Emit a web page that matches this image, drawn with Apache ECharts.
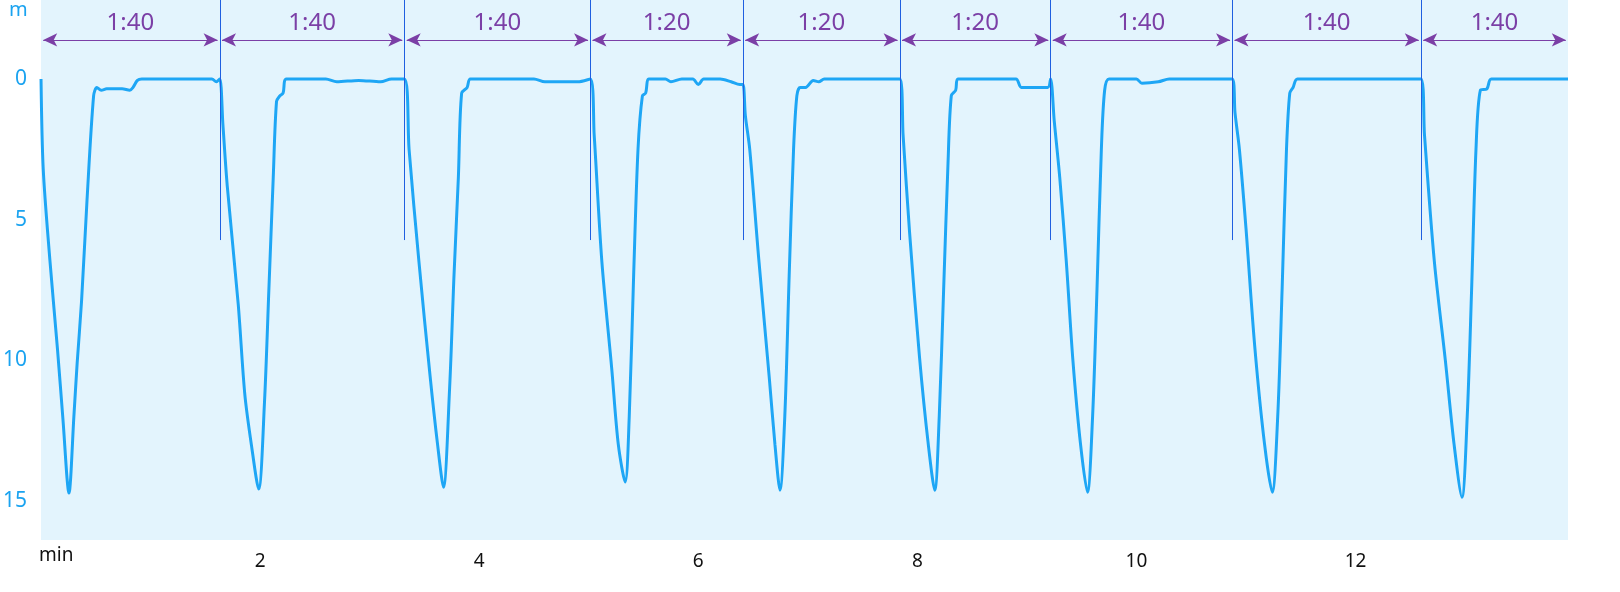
<!DOCTYPE html>
<html><head><meta charset="utf-8">
<script src="https://cdn.jsdelivr.net/npm/echarts@6/dist/echarts.min.js"></script>
<style>html,body{margin:0;padding:0;background:#fff}#c{width:1620px;height:592px}</style>
</head><body><div id="c"></div>
<script>
// depth profile [minutes, metres]
var dive1 = [[0,0],[0.02,3.2],[0.08,6.4],[0.15,9.6],[0.2,12.1],[0.255,14.73],[0.3,12],[0.33,10.1],[0.37,7.9],[0.42,4.3],[0.48,0.6],[0.51,0.3],[0.55,0.4],[0.6,0.35],[0.74,0.35],[0.81,0.4],[0.84,0.3],[0.88,0.05],[0.92,0],[1.56,0],[1.6,0.1],[1.632,0]];
var dive2 = [[1.66,1.6],[1.7,3.8],[1.8,8],[1.86,11.2],[1.92,13],[1.987,14.59],[2.04,11.5],[2.08,7.5],[2.12,3.5],[2.15,0.8],[2.18,0.6],[2.21,0.5],[2.24,0],[2.6,0],[2.7,0.1],[2.9,0.05],[3.1,0.1],[3.2,0],[3.318,0]];
var dive3 = [[3.36,2.5],[3.45,6.5],[3.55,10.5],[3.62,13],[3.674,14.52],[3.73,11],[3.77,7],[3.81,3.5],[3.84,0.5],[3.89,0.3],[3.92,0],[4.5,0],[4.6,0.1],[4.9,0.1],[5.014,0]];
var dive4 = [[5.05,2],[5.12,6.5],[5.21,10.3],[5.27,13],[5.333,14.34],[5.37,12],[5.41,7],[5.45,2.5],[5.49,0.6],[5.52,0.5],[5.55,0],[5.7,0],[5.75,0.1],[5.85,0],[5.95,0],[6.0,0.2],[6.05,0],[6.2,0],[6.3,0.1],[6.38,0.2],[6.408,0.2]];
var dive5 = [[6.43,1.3],[6.47,2.5],[6.55,6.3],[6.65,10.7],[6.7,13],[6.746,14.63],[6.79,12],[6.83,7],[6.87,2.5],[6.9,0.6],[6.93,0.3],[6.98,0.3],[7.05,0.05],[7.1,0.1],[7.15,0],[7.84,0]];
var dive6 = [[7.87,2],[7.93,5.5],[8.02,9.9],[8.1,13],[8.159,14.63],[8.2,12],[8.24,7.5],[8.28,3],[8.31,0.6],[8.35,0.4],[8.37,0],[8.9,0],[8.95,0.3],[9.19,0.3],[9.216,0]];
var dive7 = [[9.25,1.5],[9.3,3.5],[9.36,6.5],[9.42,10],[9.49,13],[9.553,14.7],[9.6,12],[9.64,7.5],[9.68,2.5],[9.71,0.4],[9.75,0],[10.0,0],[10.05,0.15],[10.2,0.1],[10.3,0],[10.875,0]];
var dive8 = [[10.9,1.2],[10.94,2.5],[11.0,5.3],[11.08,9.5],[11.17,13],[11.24,14.7],[11.29,12],[11.33,7.5],[11.37,2.5],[11.4,0.5],[11.43,0.3],[11.47,0],[12.598,0]];
var dive9 = [[12.63,2],[12.72,6.5],[12.82,10],[12.9,13],[12.972,14.88],[13.02,12],[13.06,7.5],[13.1,2.5],[13.14,0.4],[13.2,0.35],[13.24,0],[13.94,0]];

var diveStarts = [1.632, 3.318, 5.014, 6.408, 7.84, 9.216, 10.875, 12.598];
var intervalBounds = [0, 1.632, 3.318, 5.014, 6.408, 7.84, 9.216, 10.875, 12.598, 13.94];
var intervalLabels = ['1:40','1:40','1:40','1:20','1:20','1:20','1:40','1:40','1:40'];

var profile = [].concat(dive1, dive2, dive3, dive4, dive5, dive6, dive7, dive8, dive9);
var xMax = 13.94, yMin = -2.81, yMax = 16.4;
var arrowY = -1.39, markerBottom = 5.73;

var chart = echarts.init(document.getElementById('c'));

var arrows = [];
for (var i = 0; i < intervalLabels.length; i++) {
  arrows.push([
    {coord: [intervalBounds[i] + 0.02, arrowY], name: intervalLabels[i]},
    {coord: [intervalBounds[i + 1] - 0.02, arrowY]}
  ]);
}
var verticals = diveStarts.map(function (t) {
  return [{coord: [t, yMin]}, {coord: [t, markerBottom]}];
});

chart.setOption({
  animation: false,
  grid: {left: 39, right: 52, top: 0, bottom: 52, show: true, backgroundColor: '#e3f4fd', borderWidth: 0},
  xAxis: {
    type: 'value', min: 0, max: xMax,
    axisLine: {show: false}, axisTick: {show: false}, splitLine: {show: false},
    axisLabel: {customValues: [2, 4, 6, 8, 10, 12], color: '#111', fontSize: 19, margin: 12, fontFamily: 'Noto Sans'}
  },
  yAxis: {
    type: 'value', inverse: true, min: yMin, max: yMax,
    axisLine: {show: false}, axisTick: {show: false}, splitLine: {show: false},
    axisLabel: {customValues: [0, 5, 10, 15], color: '#1aa3f0', fontSize: 21, margin: 14, fontFamily: 'Noto Sans'}
  },
  graphic: [
    {type: 'text', left: 9, top: 0, style: {text: 'm', fill: '#1aa3f0', fontSize: 20, fontFamily: 'Noto Sans'}},
    {type: 'text', left: 39, top: 546, style: {text: 'min', fill: '#111', fontSize: 19, fontFamily: 'Noto Sans'}}
  ],
  series: [{
    type: 'line', data: profile, showSymbol: false, smooth: 0.3,
    lineStyle: {color: '#1ea6f5', width: 3},
    markLine: {
      silent: true, symbol: 'none', animation: false,
      lineStyle: {color: '#1f5fe0', width: 1, type: 'solid'},
      label: {show: false},
      data: verticals
    }
  }, {
    type: 'line', data: [],
    markLine: {
      silent: true, animation: false,
      symbol: ['arrow', 'arrow'], symbolSize: [10, 14],
      lineStyle: {color: '#7b3fa6', width: 1.2, type: 'solid'},
      label: {show: true, position: 'middle', formatter: '{b}', color: '#7b3fa6', fontSize: 24, distance: 5, fontFamily: 'Noto Sans'},
      data: arrows
    }
  }]
});
</script></body></html>
